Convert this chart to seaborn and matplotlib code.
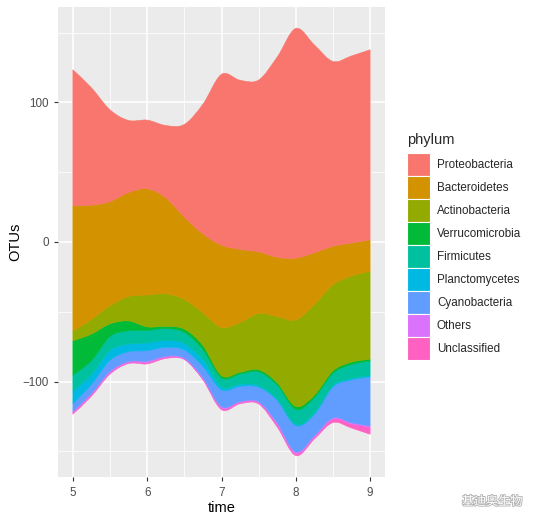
import numpy as np
import pandas as pd
import seaborn as sns
import matplotlib
matplotlib.use('Agg')
import matplotlib.pyplot as plt
import matplotlib.patheffects as pe
from matplotlib.patches import Patch, PathPatch
from matplotlib.path import Path

time = [5.0, 5.25, 5.5, 5.75, 6.0, 6.25, 6.5, 6.75, 7.0, 7.25, 7.5, 7.75, 8.0, 8.25, 8.5, 8.75, 9.0]
proteobacteria = [97.5, 84.1, 65.8, 51.7, 49.2, 51.8, 66.3, 92.9, 122.4, 121.1, 123.1, 143.4, 164.6, 148.8, 132.4, 134.0, 136.3]
bacteroidetes = [89.7, 81.8, 74.5, 74.4, 76.1, 68.8, 59.0, 56.6, 58.9, 52.4, 44.1, 42.5, 44.2, 37.0, 27.6, 23.6, 22.4]
actinobacteria = [7.0, 10.5, 13.0, 17.5, 22.8, 23.3, 21.3, 23.3, 34.5, 35.7, 40.3, 47.4, 62.0, 65.0, 61.6, 61.7, 63.0]
verrucomicrobia = [24.5, 19.0, 9.0, 7.0, 2.5, 1.6, 2.3, 3.0, 1.6, 1.2, 1.5, 1.7, 2.1, 1.8, 1.7, 1.7, 1.2]
firmicutes = [11.5, 10.0, 10.0, 9.5, 9.0, 8.3, 8.0, 7.4, 6.6, 7.3, 9.8, 10.0, 10.6, 11.0, 8.8, 10.0, 10.5]
planctomycetes = [9.0, 7.0, 7.0, 5.5, 5.5, 5.0, 4.6, 4.6, 2.0, 1.5, 1.2, 1.0, 1.0, 1.0, 1.0, 1.0, 1.0]
cyanobacteria = [5.5, 6.5, 8.0, 7.0, 7.5, 6.5, 5.8, 8.0, 11.9, 10.9, 10.4, 16.0, 18.8, 15.2, 22.2, 30.7, 35.0]
others = [1.0, 1.0, 1.0, 0.8, 1.0, 0.8, 0.7, 1.0, 1.1, 0.8, 0.8, 1.5, 1.2, 1.2, 0.8, 0.8, 1.0]
unclassified = [1.0, 1.0, 1.0, 0.7, 1.0, 0.8, 0.4, 0.6, 1.2, 0.8, 0.8, 1.5, 1.5, 1.2, 2.5, 3.0, 5.0]

phyla = ['Proteobacteria', 'Bacteroidetes', 'Actinobacteria', 'Verrucomicrobia', 'Firmicutes',
         'Planctomycetes', 'Cyanobacteria', 'Others', 'Unclassified']
# ggplot default hue palette for 9 levels
colors = ['#F8766D', '#D39200', '#93AA00', '#00BA38', '#00C19F',
          '#00B9E3', '#619CFF', '#DB72FB', '#FF61C3']


def build_df():
    df = pd.DataFrame({'time': time,
                       'Proteobacteria': proteobacteria,
                       'Bacteroidetes': bacteroidetes,
                       'Actinobacteria': actinobacteria,
                       'Verrucomicrobia': verrucomicrobia,
                       'Firmicutes': firmicutes,
                       'Planctomycetes': planctomycetes,
                       'Cyanobacteria': cyanobacteria,
                       'Others': others,
                       'Unclassified': unclassified})
    return df


def bezier_segments(x, y):
    # catmull-rom style curve through the points, as cubic bezier segments
    pts = np.column_stack([x, y])
    n = len(pts)
    verts = []
    for i in range(n - 1):
        p0 = pts[max(i - 1, 0)]
        p1 = pts[i]
        p2 = pts[i + 1]
        p3 = pts[min(i + 2, n - 1)]
        verts += [p1 + (p2 - p0) / 6, p2 - (p3 - p1) / 6, p2]
    return verts


def band_path(x, low, up):
    x = np.asarray(x, dtype=float)
    verts = [(x[0], up[0])] + bezier_segments(x, up)
    codes = [Path.MOVETO] + [Path.CURVE4] * (3 * (len(x) - 1))
    verts += [(x[-1], low[-1])]
    codes += [Path.LINETO]
    verts += bezier_segments(x[::-1], low[::-1])
    codes += [Path.CURVE4] * (3 * (len(x) - 1))
    verts += [(x[0], up[0])]
    codes += [Path.CLOSEPOLY]
    return Path(verts, codes)


def plot_stream(df):
    sns.set_theme(style='darkgrid')
    plt.rcParams['font.family'] = ['Liberation Sans', 'Noto Sans CJK SC', 'DejaVu Sans']

    fig = plt.figure(figsize=(5.42, 5.28), dpi=100)
    fig.patch.set_facecolor('white')
    W, H = 542, 528
    ax = fig.add_axes([58 / W, (H - 477) / H, (385 - 58) / W, (477 - 7) / H])
    ax.set_facecolor('#EBEBEB')

    # mirror stream: centred around zero, first phylum on top
    total = df[phyla].sum(axis=1).values
    lower = -total / 2
    for name, col in zip(phyla[::-1], colors[::-1]):
        upper = lower + df[name].values
        patch = PathPatch(band_path(df['time'], lower, upper), facecolor=col,
                          edgecolor=col, linewidth=0.4)
        ax.add_patch(patch)
        lower = upper

    # ggplot style 5% expansion
    t0, t1 = df['time'].min(), df['time'].max()
    half = total.max() / 2
    ax.set_xlim(t0 - 0.05 * (t1 - t0), t1 + 0.05 * (t1 - t0))
    ax.set_ylim(-half * 1.1, half * 1.1)

    ax.set_xticks([5, 6, 7, 8, 9])
    ax.set_xticks([5.5, 6.5, 7.5, 8.5], minor=True)
    ax.set_yticks([-100, 0, 100])
    ax.set_yticks([-150, -50, 50, 150], minor=True)
    ax.grid(which='major', color='white', linewidth=1.1)
    ax.grid(which='minor', color='white', linewidth=0.55)
    ax.set_axisbelow(True)
    for s in ax.spines.values():
        s.set_visible(False)
    ax.tick_params(which='major', length=2.7, width=0.8, color='#333333',
                   labelsize=8.4, labelcolor='#4D4D4D', left=True, bottom=True)
    ax.tick_params(axis='x', which='major', pad=4.5)
    ax.tick_params(axis='y', which='major', pad=3.7)
    ax.tick_params(which='minor', length=0)

    ax.set_xlabel('time', fontsize=10.5, color='black', labelpad=1.2)
    ax.set_ylabel('OTUs', fontsize=10.5, color='black', labelpad=0.8)

    # legend
    handles = [Patch(facecolor=c, edgecolor='white', linewidth=0.8) for c in colors]
    fig.legend(handles, phyla, loc='upper left', bbox_to_anchor=(407 / W, 1 - 153 / H),
               frameon=False, borderpad=0, borderaxespad=0, fontsize=8.4,
               handlelength=1.97, handleheight=2.655, labelspacing=0, handletextpad=0.6)
    fig.text(407 / W, 1 - 140 / H, 'phylum', fontsize=10.5, ha='left', va='center')

    # watermark
    fig.text(462 / W, 1 - 502 / H, '基迪奥生物', fontsize=8.7, ha='left', va='center',
             color='white', path_effects=[pe.withStroke(linewidth=1.3, foreground='#B5B5B5')])

    fig.savefig('out.png', dpi=100)


if __name__ == '__main__':
    df_stream = build_df()
    plot_stream(df_stream)
